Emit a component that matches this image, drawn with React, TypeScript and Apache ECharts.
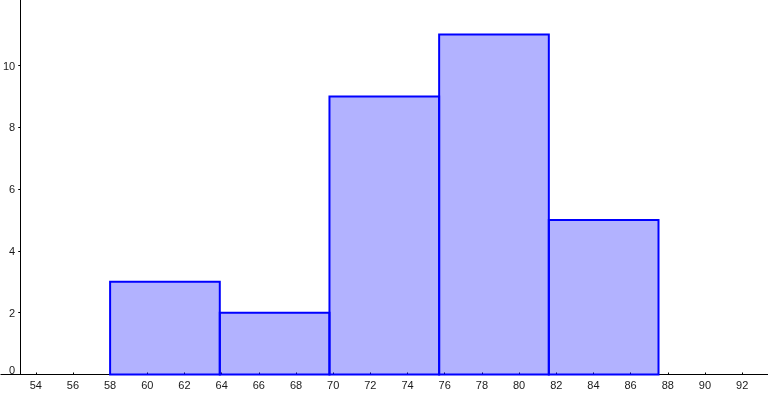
import React, { useEffect, useRef } from "react";
import * as echarts from "echarts";

const binStarts = [58, 63.9, 69.8, 75.7, 81.6];
const binEnds = [63.9, 69.8, 75.7, 81.6, 87.5];
const counts = [3, 2, 9, 11, 5];
const xTickValues = [54, 56, 58, 60, 62, 64, 66, 68, 70, 72, 74, 76, 78, 80, 82, 84, 86, 88, 90, 92];
const yTickValues = [0, 2, 4, 6, 8, 10];

export default function App() {
  const ref = useRef<HTMLDivElement>(null);
  useEffect(() => {
    if (!ref.current) return;
    const chart = echarts.init(ref.current, null, { renderer: "svg" });
    const data = binStarts.map((s, i) => [s, binEnds[i], counts[i]]);
    const textStyle = { color: "#1a1a1a", fontSize: 11, fontFamily: "Liberation Sans, Arial, sans-serif" };
    chart.setOption({
      animation: false,
      grid: { left: 0, right: 0, top: 0, bottom: 30.5, containLabel: false },
      xAxis: {
        type: "value",
        min: 52.127,
        max: 93.39,
        splitLine: { show: false },
        axisLine: { show: true, onZero: false, lineStyle: { color: "#000", width: 1 } },
        axisTick: { show: true, inside: true, length: 2, customValues: xTickValues, lineStyle: { color: "#000" } },
        axisLabel: { ...textStyle, margin: 5, customValues: xTickValues },
      },
      yAxis: {
        type: "value",
        min: 0,
        max: 12.12,
        offset: -19.3,
        splitLine: { show: false },
        axisLine: { show: true, onZero: false, lineStyle: { color: "#000", width: 1 } },
        axisTick: { show: true, length: 2, customValues: yTickValues, lineStyle: { color: "#000" } },
        axisLabel: {
          ...textStyle,
          margin: 5,
          customValues: yTickValues,
          formatter: (v: number) => (v === 0 ? "{z|0}" : String(v)),
          rich: { z: { ...textStyle, padding: [0, 0, 10, 0] } },
        },
      },
      series: [
        {
          type: "custom",
          data,
          encode: { x: [0, 1], y: 2 },
          renderItem: (params: any, api: any) => {
            const s = api.value(0);
            const e = api.value(1);
            const c = api.value(2);
            const p0 = api.coord([s, c]);
            const p1 = api.coord([e, 0]);
            return {
              type: "rect",
              shape: { x: p0[0], y: p0[1], width: p1[0] - p0[0], height: p1[1] - p0[1] },
              style: { fill: "rgba(0,0,255,0.3)", stroke: "#0000ff", lineWidth: 2 },
            };
          },
        },
      ],
    });
    return () => chart.dispose();
  }, []);
  return <div ref={ref} style={{ position: "fixed", left: 0, top: 0, width: 768, height: 405 }} />;
}
